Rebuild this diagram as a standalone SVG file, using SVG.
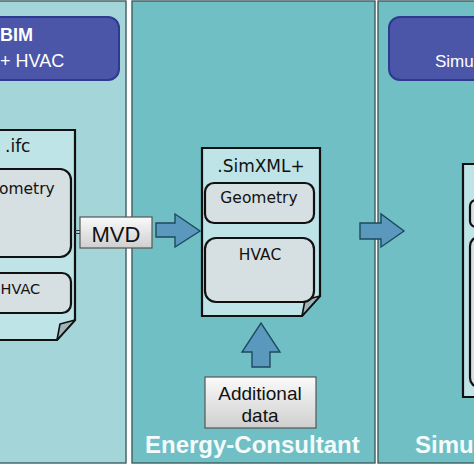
<svg xmlns="http://www.w3.org/2000/svg" width="474" height="474" viewBox="0 0 474 474">
<defs>
<linearGradient id="gbox" x1="0" y1="0" x2="0" y2="1">
<stop offset="0" stop-color="#fafafa"/>
<stop offset="1" stop-color="#cfcfcf"/>
</linearGradient>
</defs>
<style>
.t{font-family:"Liberation Sans",Arial,sans-serif;fill:#111}
.d{font-family:"DejaVu Sans",Verdana,sans-serif;fill:#111}
.w{font-family:"Liberation Sans",Arial,sans-serif;fill:#f4fbfb;font-weight:bold}
.doc{fill:#bfe4e7;stroke:#111;stroke-width:2.2}
.fold{fill:#9fb5b8;stroke:#111;stroke-width:1.6;stroke-linejoin:round}
.inner{fill:#d6dfe2;stroke:#111;stroke-width:2.2}
.arr{fill:#5b98bd;stroke:#1f4a5e;stroke-width:1.4;stroke-linejoin:miter}
.gbox{fill:url(#gbox);stroke:#555;stroke-width:1.2}
.role{fill:#4b56a9;stroke:#2d3a90;stroke-width:2}
</style>
<rect width="474" height="474" fill="#ffffff"/>
<g id="panels">
<rect x="-2" y="1" width="128" height="462" fill="#a3d5d9" stroke="#3f5d60" stroke-width="1.4"/>
<rect x="132" y="1" width="243" height="462" fill="#6fbfc4" stroke="#3f5d60" stroke-width="1.4"/>
<rect x="378" y="1" width="100" height="462" fill="#6fbfc4" stroke="#3f5d60" stroke-width="1.4"/>
</g>
<g id="role-bim">
<rect class="role" x="-12" y="17" width="131" height="63" rx="11"/>
<text class="w" x="0" y="41" font-size="18" style="fill:#fff">BIM</text>
<text class="t" x="0" y="67" font-size="18" style="fill:#fff">+ HVAC</text>
</g>
<g id="role-sim">
<rect class="role" x="389" y="17" width="100" height="63" rx="11"/>
<text class="t" x="435" y="67" font-size="17" style="fill:#fff">Simu</text>
</g>
<g id="doc-ifc">
<path class="doc" d="M-5 130 H75 V320 L57 340 H-5 Z"/>
<path class="fold" d="M75 320 L57 340 L60 324 Z"/>
<text class="d" x="5" y="152" font-size="17">.ifc</text>
<rect class="inner" x="-12" y="169" width="83" height="88" rx="11"/>
<text class="d" x="-1" y="194" font-size="15.5">ometry</text>
<rect class="inner" x="-12" y="273" width="83" height="40" rx="9"/>
<text class="d" x="0.5" y="294" font-size="14.5">HVAC</text>
</g>
<g id="doc-simxml">
<path class="doc" d="M202 148 H320 V296 L302 316 H202 Z"/>
<path class="fold" d="M320 296 L302 316 L305 300 Z"/>
<text class="d" x="261" y="172" font-size="17" text-anchor="middle">.SimXML+</text>
<rect class="inner" x="205" y="183" width="109" height="40" rx="9"/>
<text class="d" x="259" y="203" font-size="15.5" text-anchor="middle">Geometry</text>
<rect class="inner" x="205" y="238" width="109" height="64" rx="11"/>
<text class="d" x="260" y="260" font-size="15.5" text-anchor="middle">HVAC</text>
</g>
<g id="doc-sim">
<path class="doc" d="M463 164 H480 V397 H463 Z"/>
<rect class="inner" x="470" y="200" width="20" height="27" rx="6"/>
<rect class="inner" x="470" y="237" width="20" height="150" rx="9"/>
</g>
<g id="mvd">
<rect class="gbox" x="80" y="217" width="72" height="31"/>
<text class="t" x="116" y="242" font-size="22" text-anchor="middle">MVD</text>
</g>
<g id="additional-data">
<rect class="gbox" x="205" y="377" width="111" height="51"/>
<text class="t" x="260" y="400" font-size="19" text-anchor="middle">Additional</text>
<text class="t" x="260" y="422" font-size="19" text-anchor="middle">data</text>
</g>
<g id="connectors">
<path d="M75 230.5 H80 M75 233.5 H80" stroke="#333" stroke-width="1" fill="none"/>
<path class="arr" d="M156 223 H175 V214 L200 231 L175 247 V237 H156 Z"/>
<path class="arr" d="M360 223 H381 V214 L404 231 L381 247 V239 H360 Z"/>
<path class="arr" d="M252 367 V352 H242 L261 323 L280 352 H270 V367 Z"/>
</g>
<g id="labels">
<text class="w" x="145" y="453" font-size="24">Energy-Consultant</text>
<text class="w" x="415" y="453" font-size="24">Simu</text>
</g>
</svg>
